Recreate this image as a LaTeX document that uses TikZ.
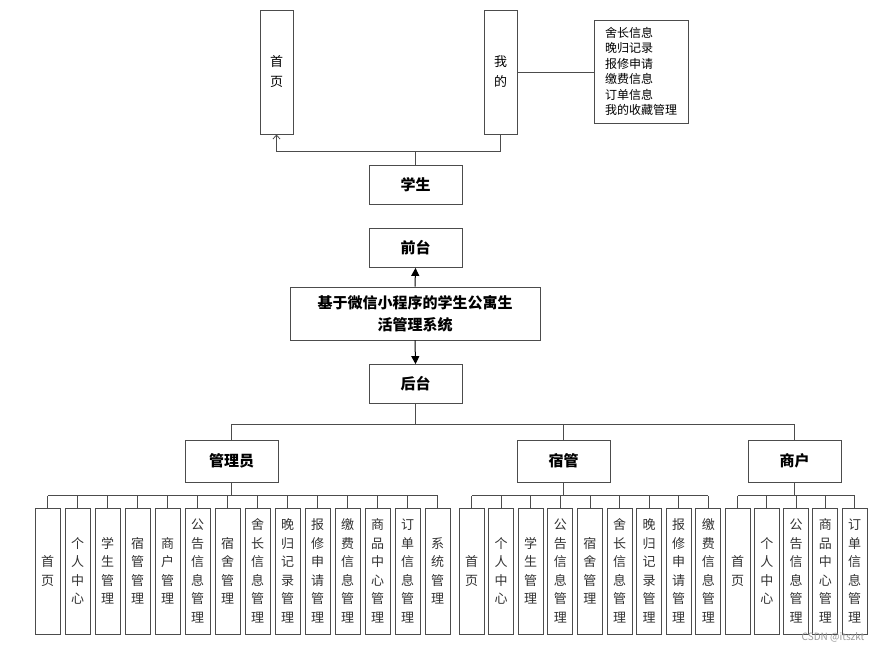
\documentclass[tikz,border=0pt]{standalone}
\usepackage{fontspec}
\setmainfont{Noto Sans CJK SC}
\usetikzlibrary{arrows.meta}
\begin{document}
\begin{tikzpicture}[x=1pt,y=-1pt,
  box/.style={draw=black!70,line width=0.8pt,fill=white,inner sep=0pt},
  mid/.style={box,minimum width=93pt,minimum height=39pt,font=\fontsize{15}{18}\selectfont\bfseries},
  leaf/.style={box,minimum width=25pt,minimum height=126pt,align=center,font=\fontsize{13}{18.5}\selectfont,text=black!80},
  ln/.style={draw=black!70,line width=0.8pt}]
\useasboundingbox (0,0) rectangle (882,651);
% top
\node[box,minimum width=33pt,minimum height=124pt,align=center,font=\fontsize{13}{20}\selectfont] (home) at (276.5,72) {首\\页};
\node[box,minimum width=33pt,minimum height=124pt,align=center,font=\fontsize{13}{20}\selectfont] (me) at (500.5,72) {我\\的};
\node[box,minimum width=94pt,minimum height=103pt,align=left,font=\fontsize{12}{15.5}\selectfont] (list) at (641,71.5) {舍长信息\\晚归记录\\报修申请\\缴费信息\\订单信息\\我的收藏管理};
\draw[ln] (me.east) -- (me.east -| list.west);
\node[mid] (stu) at (415.5,185) {学生};
\coordinate (j1) at (415.5,151);
\draw[ln] (stu.north) -- (j1);
\draw[ln,-{Straight Barb[length=4pt,width=7pt]}] (j1) -| (home.south);
\draw[ln] (j1) -| (me.south);
\node[mid] (ft) at (415.5,248) {前台};
\node[box,minimum width=250pt,minimum height=53pt,align=center,font=\fontsize{15}{22}\selectfont\bfseries] (sys) at (415,313.5) {基于微信小程序的学生公寓生\\活管理系统};
\draw[line width=1pt,-{Triangle[length=8pt,width=8pt]}] (sys.north) -- (ft.south);
\node[mid] (bt) at (415.5,384) {后台};
\draw[line width=1pt,-{Triangle[length=8pt,width=8pt]}] (sys.south) -- (bt.north);
\node[mid,minimum height=42pt] (adm) at (231.5,461) {管理员};
\node[mid,minimum height=42pt] (sg) at (563.5,461) {宿管};
\node[mid,minimum height=42pt] (sh) at (794.5,461) {商户};
\coordinate (j2) at (415.5,424);
\draw[ln] (bt.south) -- (j2);
\draw[ln] (j2) -| (adm.north);
\draw[ln] (j2) -| (sg.north);
\draw[ln] (j2) -| (sh.north);
% admin leaves
\foreach \t [count=\i from 0] in {首\\页,个\\人\\中\\心,学\\生\\管\\理,宿\\管\\管\\理,商\\户\\管\\理,公\\告\\信\\息\\管\\理,宿\\舍\\管\\理,舍\\长\\信\\息\\管\\理,晚\\归\\记\\录\\管\\理,报\\修\\申\\请\\管\\理,缴\\费\\信\\息\\管\\理,商\\品\\中\\心\\管\\理,订\\单\\信\\息\\管\\理,系\\统\\管\\理}{
  \node[leaf] (a\i) at ({47.5+30*\i},571) {\t};
  \draw[ln] (a\i.north) -- ++(0,-12) coordinate (ab\i);
}
\draw[ln] (ab0) -- (ab13);
\draw[ln,line width=1.5pt] (adm.south) -- (adm.south |- ab0);
% sushe leaves
\foreach \t [count=\i from 0] in {首\\页,个\\人\\中\\心,学\\生\\管\\理,公\\告\\信\\息\\管\\理,宿\\舍\\管\\理,舍\\长\\信\\息\\管\\理,晚\\归\\记\\录\\管\\理,报\\修\\申\\请\\管\\理,缴\\费\\信\\息\\管\\理}{
  \node[leaf] (b\i) at ({471.5+29.6*\i},571) {\t};
  \draw[ln] (b\i.north) -- ++(0,-12) coordinate (bb\i);
}
\draw[ln] (bb0) -- (bb8);
\draw[ln,line width=1.5pt] (sg.south) -- (sg.south |- bb0);
% shanghu leaves
\foreach \t [count=\i from 0] in {首\\页,个\\人\\中\\心,公\\告\\信\\息\\管\\理,商\\品\\中\\心\\管\\理,订\\单\\信\\息\\管\\理}{
  \node[leaf] (c\i) at ({737.5+29.25*\i},571) {\t};
  \draw[ln] (c\i.north) -- ++(0,-12) coordinate (cb\i);
}
\draw[ln] (cb0) -- (cb4);
\draw[ln,line width=1.5pt] (sh.south) -- (sh.south |- cb0);
\node[font=\fontsize{10}{12}\selectfont,text=black!40,anchor=east] (wm) at (868,637) {CSDN @itszkt};
\end{tikzpicture}
\end{document}
